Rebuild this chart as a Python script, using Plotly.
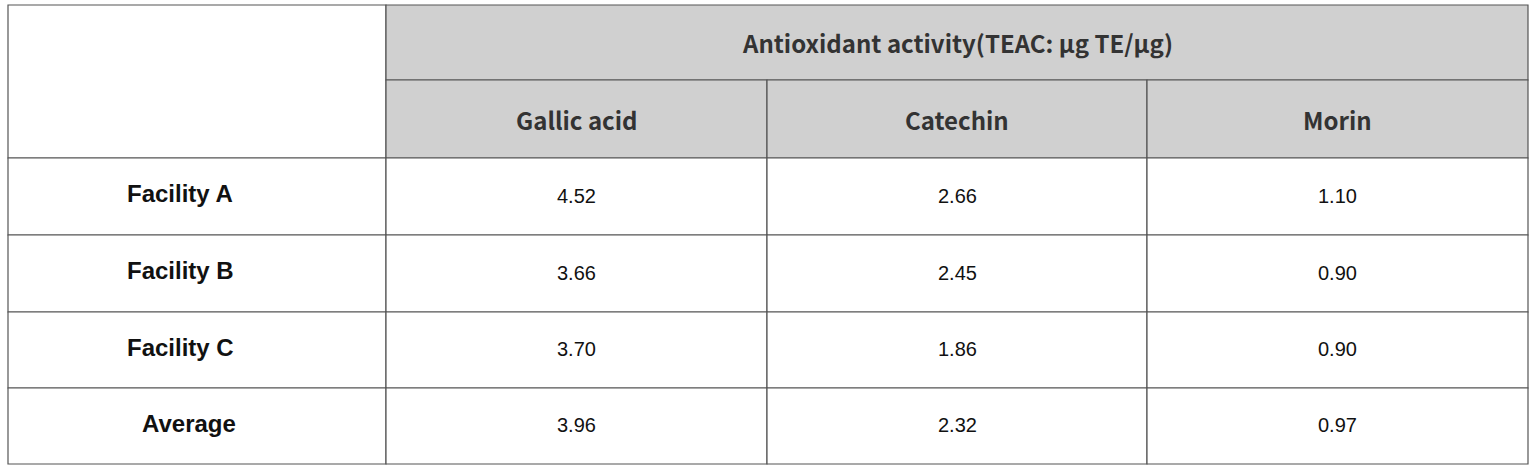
import plotly.graph_objects as go

GROUP_TITLE = "Antioxidant activity(TEAC: μg TE/μg)"
COMPOUNDS = ["Gallic acid", "Catechin", "Morin"]
ROWS = ["Facility A", "Facility B", "Facility C", "Average"]
GALLIC = ["4.52", "3.66", "3.70", "3.96"]
CATECHIN = ["2.66", "2.45", "1.86", "2.32"]
MORIN = ["1.10", "0.90", "0.90", "0.97"]

W, H = 1536, 469
COL_X = [8, 386, 767, 1147, 1528]
ROW_Y = [5, 80, 158, 235, 312, 388, 464]
GRAY = "#d0d0d0"
LINE = "#555555"
HEAD_FONT = dict(family="Noto Sans CJK JP, Noto Sans, sans-serif", size=24, color="#333333")
LABEL_FONT = dict(family="Liberation Sans, Arial, sans-serif", size=24, color="#111111")
CELL_FONT = dict(family="Liberation Sans, Arial, sans-serif", size=20, color="#111111")

fig = go.Figure()
shapes = []
ann = []


def rect(x0, y0, x1, y1, fill="white"):
    shapes.append(dict(type="rect", x0=x0, y0=y0, x1=x1, y1=y1, fillcolor=fill,
                       line=dict(color=LINE, width=1.2), layer="below"))


def text(x, y, s, font, bold=False):
    ann.append(dict(x=x, y=y, text=f"<b>{s}</b>" if bold else s, showarrow=False,
                    font=font, xanchor="center", yanchor="middle"))


# header: blank corner spanning two rows, merged group title, compound names
rect(COL_X[0], ROW_Y[0], COL_X[1], ROW_Y[2])
rect(COL_X[1], ROW_Y[0], COL_X[4], ROW_Y[1], GRAY)
text((COL_X[1] + COL_X[4]) / 2, (ROW_Y[0] + ROW_Y[1]) / 2, GROUP_TITLE, HEAD_FONT, True)
for j, name in enumerate(COMPOUNDS):
    rect(COL_X[j + 1], ROW_Y[1], COL_X[j + 2], ROW_Y[2], GRAY)
    text((COL_X[j + 1] + COL_X[j + 2]) / 2, (ROW_Y[1] + ROW_Y[2]) / 2, name, HEAD_FONT, True)

cols = [GALLIC, CATECHIN, MORIN]
for i, label in enumerate(ROWS):
    y0, y1 = ROW_Y[i + 2], ROW_Y[i + 3]
    ym = (y0 + y1) / 2 - 3
    rect(COL_X[0], y0, COL_X[1], y1)
    text(180 if i < 3 else 189, ym, label, LABEL_FONT, True)
    for j, vals in enumerate(cols):
        rect(COL_X[j + 1], y0, COL_X[j + 2], y1)
        text((COL_X[j + 1] + COL_X[j + 2]) / 2, ym + 2, vals[i], CELL_FONT)

fig.update_layout(
    width=W, height=H, margin=dict(l=0, r=0, t=0, b=0),
    paper_bgcolor="white", plot_bgcolor="white",
    xaxis=dict(range=[0, W], visible=False, fixedrange=True),
    yaxis=dict(range=[H, 0], visible=False, fixedrange=True),
    shapes=shapes, annotations=ann, showlegend=False,
)
# drop the page's default body margin so the figure sits flush in the window
fig.write_html("out.html", config=dict(displayModeBar=False),
               post_script="document.body.style.margin='0';document.body.style.overflow='hidden';")
